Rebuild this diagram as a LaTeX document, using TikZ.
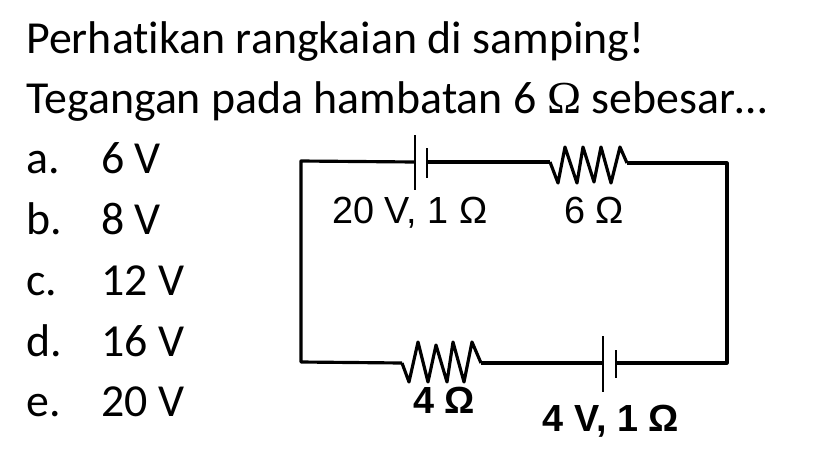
\documentclass[tikz,border=0pt]{standalone}
\usepackage{fontspec}
\setmainfont{Carlito}[Ligatures=NoCommon]
\newfontfamily\labelfont{Liberation Sans}
\newfontfamily\ohmfont{Liberation Serif}
\tikzset{
  wire/.style={line width=1.8pt,line join=round},
  plate/.style={line width=1.5pt},
  question/.style={anchor=base west,inner sep=0pt,font=\fontsize{26.1}{30}\selectfont},
  choice/.style={anchor=base west,inner sep=0pt,font=\fontsize{26.1}{30}\selectfont},
  value/.style={anchor=base,inner sep=0pt,font=\labelfont\fontsize{21.5}{24}\selectfont},
  boldvalue/.style={value,font=\labelfont\bfseries\fontsize{21.5}{24}\selectfont}
}
\begin{document}
\begin{tikzpicture}[x=0.02cm,y=-0.02cm]
\useasboundingbox (0,0) rectangle (816,468);

\node[question] (line1) at (26,53) {Perhatikan rangkaian di samping!};
\node[question] (line2) at (26,113) {Tegangan pada hambatan 6 {\ohmfont Ω} sebesar…};

\node[choice] (a) at (26,173) {a.};
\node[choice] (b) at (26,234) {b.};
\node[choice] (c) at (26,295) {c.};
\node[choice] (d) at (26,356) {d.};
\node[choice] (e) at (26,416) {e.};
\node[choice] (va) at (101,173) {6 V};
\node[choice] (vb) at (101,234) {8 V};
\node[choice] (vc) at (101,295) {12 V};
\node[choice] (vd) at (101,356) {16 V};
\node[choice] (ve) at (101,416) {20 V};

% corners and terminals
\coordinate (tl) at (301,161);
\coordinate (tr) at (727,163);
\coordinate (br) at (727,363);
\coordinate (bl) at (301,362);
\coordinate (batt1a) at (415,162);
\coordinate (batt1b) at (427,162);
\coordinate (res1a) at (550,162);
\coordinate (res1b) at (627,163);
\coordinate (res2a) at (402,363);
\coordinate (res2b) at (481,363);
\coordinate (batt2a) at (603,363);
\coordinate (batt2b) at (616,363);

\draw[wire] (batt1a) -- (tl) -- (bl) -- (res2a);
\draw[wire] (batt1b) -- (res1a);
\draw[wire] (res1b) -- (tr) -- (br) -- (batt2b);
\draw[wire] (res2b) -- (batt2a);

\draw[wire] (res1a) -- (558,183) -- (565,147) -- (577,183) -- (583,147) -- (594,182)
  -- (601,147) -- (611,183) -- (620,147) -- (res1b);
\draw[wire] (res2a) -- (409,382) -- (418,342) -- (428,382) -- (436,345) -- (447,382)
  -- (453,342) -- (464,382) -- (472,342) -- (res2b);

\draw[plate] (415,135) -- (415,190);
\draw[plate] (427,148) -- (427,178);
\draw[plate] (603,336) -- (603,392);
\draw[plate] (616,350) -- (616,378);

\node[value] (l20) at (410,223) {20 V, 1 Ω};
\node[value] (l6) at (594,223) {6 Ω};
\node[boldvalue] (l4) at (444,413) {4 Ω};
\node[boldvalue] (l4v) at (611,431) {4 V, 1 Ω};
\end{tikzpicture}
\end{document}
